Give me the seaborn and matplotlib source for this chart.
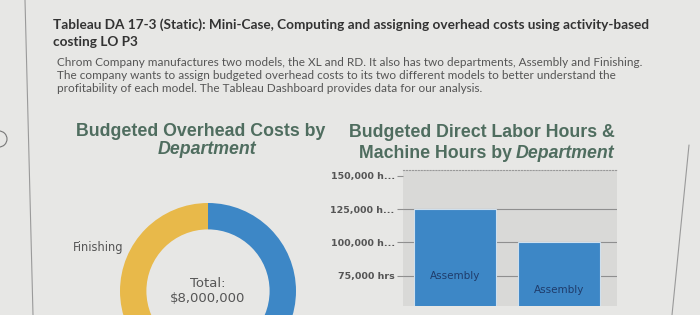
import matplotlib
matplotlib.use("Agg")
import matplotlib.pyplot as plt
import seaborn as sns
import pandas as pd
from matplotlib.lines import Line2D
from matplotlib.patches import Ellipse

# header text
title_lines = ["Tableau DA 17-3 (Static): Mini-Case, Computing and assigning overhead costs using activity-based",
               "costing LO P3"]
body_lines = ["Chrom Company manufactures two models, the XL and RD. It also has two departments, Assembly and Finishing.",
              "The company wants to assign budgeted overhead costs to its two different models to better understand the",
              "profitability of each model. The Tableau Dashboard provides data for our analysis."]

# donut data (only the total is readable, split assumed even)
departments = ["Assembly", "Finishing"]
overhead_costs = [4000000, 4000000]
donut_colors = ["#3d87c6", "#e8b94a"]

# bar data
hour_types = ["Direct Labor Hours", "Machine Hours"]
hours = [125000, 100000]
bar_labels = ["Assembly", "Assembly"]
label_heights = [75000, 64000]
tick_values = [75000, 100000, 125000, 150000]
tick_labels = ["75,000 hrs", "100,000 h...", "125,000 h...", "150,000 h..."]

page = "#e7e7e5"
sns.set_theme(style="white")
plt.rcParams["font.family"] = ["Liberation Sans", "DejaVu Sans"]

fig = plt.figure(figsize=(7, 3.15), dpi=100, facecolor=page)
W, H = 700, 315

def fx(px):
    return px / W

def fy(py):
    return 1 - py / H

# header
head_font = ["Lato", "DejaVu Sans"]
fig.text(fx(53), fy(25), title_lines[0], fontsize=9.8, fontweight="bold", color="#333333",
         family=head_font, va="center")
fig.text(fx(53), fy(42), title_lines[1], fontsize=9.8, fontweight="bold", color="#333333",
         family=head_font, va="center")
for i, line in enumerate(body_lines):
    fig.text(fx(57), fy(62 + i * 13.5), line, fontsize=8.5, color="#555555",
             family=head_font, va="center")

# panel edges from the photo
fig.add_artist(Line2D([fx(25), fx(33)], [fy(0), fy(315)], color="#9a9a9a", lw=0.8))
fig.add_artist(Line2D([fx(689), fx(672)], [fy(145), fy(315)], color="#9a9a9a", lw=0.8))
fig.add_artist(Ellipse((fx(-1), fy(139)), 16 / W, 16 / H, transform=fig.transFigure, fill=False,
                       edgecolor="#777777", lw=0.8))

# chart titles
title_color = "#4f6d5f"
tsize = 12.8
fig.text(fx(201), fy(131), "Budgeted Overhead Costs by", fontsize=tsize, fontweight="bold",
         color=title_color, ha="center", va="center")
fig.text(fx(207), fy(150), "Department", fontsize=tsize, fontweight="bold", style="italic",
         color=title_color, ha="center", va="center")
fig.text(fx(482), fy(132), "Budgeted Direct Labor Hours &", fontsize=tsize, fontweight="bold",
         color=title_color, ha="center", va="center")
t_a = fig.text(fx(359), fy(153), "Machine Hours by", fontsize=tsize, fontweight="bold",
               color=title_color, ha="left", va="center")
fig.canvas.draw()
bb = t_a.get_window_extent()
fig.text((bb.x1 + 4) / W, fy(153), "Department", fontsize=tsize, fontweight="bold", style="italic",
         color=title_color, ha="left", va="center")

# donut
cx, cy, r = 208, 291, 88
ax1 = fig.add_axes([fx(cx - r), fy(cy + r), 2 * r / W, 2 * r / H])
ax1.pie(overhead_costs, colors=donut_colors, startangle=90, counterclock=False,
        wedgeprops=dict(width=0.3, edgecolor="none"))
ax1.set_xlim(-1, 1)
ax1.set_ylim(-1, 1)
ax1.set_facecolor("none")
ax1.axis("off")
lab_font = ["DejaVu Sans"]
ax1.text(-0.96, 0.49, "Finishing", ha="right", va="center", fontsize=8.3, color="#555555",
         family=lab_font)
ax1.text(0, 0.09, "Total:", ha="center", va="center", fontsize=9.5, color="#555555", family=lab_font)
ax1.text(0, -0.08, "$" + f"{sum(overhead_costs):,}", ha="center", va="center", fontsize=9.5,
         color="#555555", family=lab_font)

# bar chart
ax2 = fig.add_axes([fx(403), fy(306), fx(617) - fx(403), (306 - 170) / H])
df = pd.DataFrame({"type": hour_types, "hours": hours})
ax2.set_facecolor("#d9d9d7")
for v in tick_values[:-1]:
    ax2.axhline(v, color="#8f8f8f", lw=0.8, zorder=0)
sns.barplot(data=df, x="type", y="hours", color="#3d87c6", width=0.79, saturation=1,
            edgecolor="#cfe0ee", linewidth=0.8, ax=ax2, zorder=2)
for i, (lab, h) in enumerate(zip(bar_labels, label_heights)):
    ax2.text(i, h, lab, ha="center", va="center", fontsize=7.5, color="#1f3c6b",
             family=lab_font, zorder=3)
ax2.set_ylim(52300, 154300)
ax2.set_xlim(-0.5, 1.56)
ax2.set_yticks(tick_values)
ax2.set_yticklabels(tick_labels, family=lab_font, fontsize=6.8, color="#555555", fontweight="bold")
ax2.tick_params(axis="y", left=True, length=4, width=0.8, color="#8f8f8f", pad=2)
ax2.set_xticks([])
ax2.set_xlabel("")
ax2.set_ylabel("")
for side in ["left", "right", "bottom"]:
    ax2.spines[side].set_visible(False)
ax2.spines["top"].set_linestyle(":")
ax2.spines["top"].set_color("#999999")
ax2.spines["top"].set_linewidth(0.8)

fig.savefig("out.png", dpi=100, facecolor=page)
